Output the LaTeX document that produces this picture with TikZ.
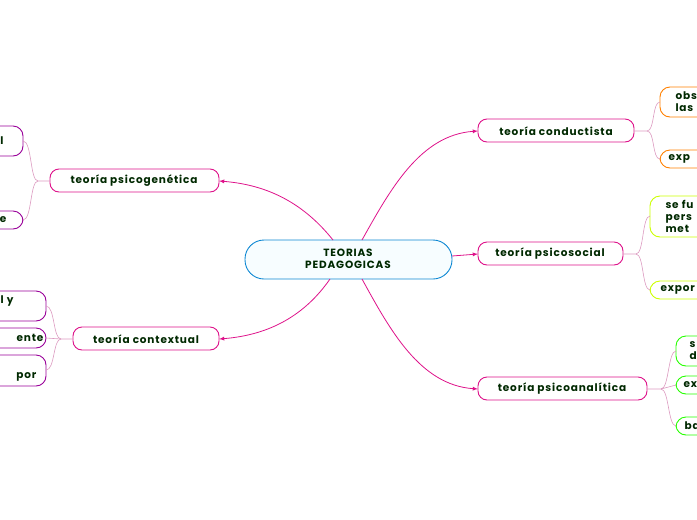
\documentclass[tikz,border=0pt]{standalone}
\usepackage{fontspec}
\setmainfont{Poppins}[LetterSpace=8]
\begin{document}
\begin{tikzpicture}[x=1pt,y=-1pt,
  txt/.style={font=\bfseries\fontsize{10.5}{12}\selectfont, text=black!60!green!40!black},
  mainbox/.style={draw=magenta!85!violet, line width=0.9pt, rounded corners=9pt, fill=white},
  mainline/.style={draw=magenta!85!violet, line width=0.8pt, -latex},
  branch/.style={draw=magenta!40!violet!45, line width=0.6pt},
  leaf/.style={rounded corners=10pt, line width=0.9pt, fill=white}]
\useasboundingbox (0,0) rectangle (697,520);
\clip (0,0) rectangle (697,520);
% central
\draw[draw=cyan!70!blue, line width=0.9pt, fill=cyan!3, rounded corners=19pt] (245,240) rectangle (452,279);
\node[txt, align=center] (c) at (348,259) {TEORIAS\\PEDAGOGICAS};
\coordinate (ct) at (362,240); \coordinate (ctl) at (333,240);
\coordinate (cb) at (362,279); \coordinate (cbl) at (330,279);
\coordinate (cr) at (452,256);
% main nodes
\draw[mainbox] (50,169) rectangle (219,192);
\node[txt] (pg) at (134,181) {teoría psicogenética};
\draw[mainbox] (73,327) rectangle (219,350);
\node[txt] (ctx) at (146,339) {teoría contextual};
\draw[mainbox] (478,119) rectangle (634,142);
\node[txt] (cd) at (556,131) {teoría conductista};
\draw[mainbox] (478,242) rectangle (623,265);
\node[txt] (ps) at (550,254) {teoría psicosocial};
\draw[mainbox] (478,377) rectangle (647,400);
\node[txt] (pa) at (562,389) {teoría psicoanalítica};
\coordinate (pgR) at (219,181); \coordinate (ctxR) at (219,339);
\coordinate (cdL) at (478,131); \coordinate (psL) at (478,254); \coordinate (paL) at (478,389);
% main connectors
\draw[mainline] (ctl) .. controls (305,205) and (270,185) .. (pgR);
\draw[mainline] (cbl) .. controls (305,315) and (270,335) .. (ctxR);
\draw[mainline] (ct) .. controls (390,190) and (420,135) .. (cdL);
\draw[mainline] (cr) -- (psL);
\draw[mainline] (cb) .. controls (390,330) and (420,385) .. (paL);
% leaves
\draw[leaf, draw=violet!80!magenta] (-60,126) rectangle (23,156);
\draw[leaf, draw=violet!80!magenta] (-60,211) rectangle (23,229);
\draw[leaf, draw=violet!80!magenta] (-60,291) rectangle (46,321);
\draw[leaf, draw=violet!80!magenta] (-60,328) rectangle (46,348);
\draw[leaf, draw=violet!80!magenta] (-60,355) rectangle (46,386);
\draw[leaf, draw=orange] (660,87) rectangle (760,117);
\draw[leaf, draw=orange] (660,150) rectangle (760,168);
\draw[leaf, draw=lime!80!yellow] (650,196) rectangle (760,237);
\draw[leaf, draw=lime!80!yellow] (650,281) rectangle (760,299);
\draw[leaf, draw=green!80!lime] (676,336) rectangle (760,366);
\draw[leaf, draw=green!80!lime] (676,376) rectangle (760,394);
\draw[leaf, draw=green!80!lime] (676,417) rectangle (760,435);
\node[txt, anchor=east] (l1) at (7,141) {l};
\node[txt, anchor=east] (l2) at (10,220) {e};
\node[txt, anchor=east] (l3) at (17,301) {l y};
\node[txt, anchor=east] (l4) at (47,338) {ente};
\node[txt, anchor=east] (l5) at (40,377) {por};
\node[txt, anchor=west, align=left] (r1) at (672,102) {obs\\las};
\node[txt, anchor=west] (r2) at (665,159) {exp};
\node[txt, anchor=west, align=left] (r3) at (662,216) {se fu\\pers\\met};
\node[txt, anchor=west] (r4) at (657,290) {expor};
\node[txt, anchor=west, align=left] (r5) at (686,351) {s\\d};
\node[txt, anchor=west] (r6) at (680,385) {ex};
\node[txt, anchor=west] (r7) at (681,426) {ba};
% branches
\draw[branch] (50,181) -- (38,181) .. controls (30,181) and (32,141) .. (23,141);
\draw[branch] (38,181) .. controls (30,181) and (32,220) .. (23,220);
\draw[branch] (73,339) -- (61,339) .. controls (53,339) and (55,306) .. (46,306);
\draw[branch] (61,339) -- (46,338);
\draw[branch] (61,339) .. controls (53,339) and (55,370) .. (46,370);
\draw[branch] (634,131) -- (647,131) .. controls (655,131) and (652,102) .. (660,102);
\draw[branch] (647,131) .. controls (655,131) and (652,159) .. (660,159);
\draw[branch] (623,254) -- (636,254) .. controls (644,254) and (642,216) .. (650,216);
\draw[branch] (636,254) .. controls (644,254) and (642,290) .. (650,290);
\draw[branch] (647,389) -- (661,389) .. controls (669,389) and (668,351) .. (676,351);
\draw[branch] (661,389) -- (676,385);
\draw[branch] (661,389) .. controls (669,389) and (668,426) .. (676,426);
\end{tikzpicture}
\end{document}
